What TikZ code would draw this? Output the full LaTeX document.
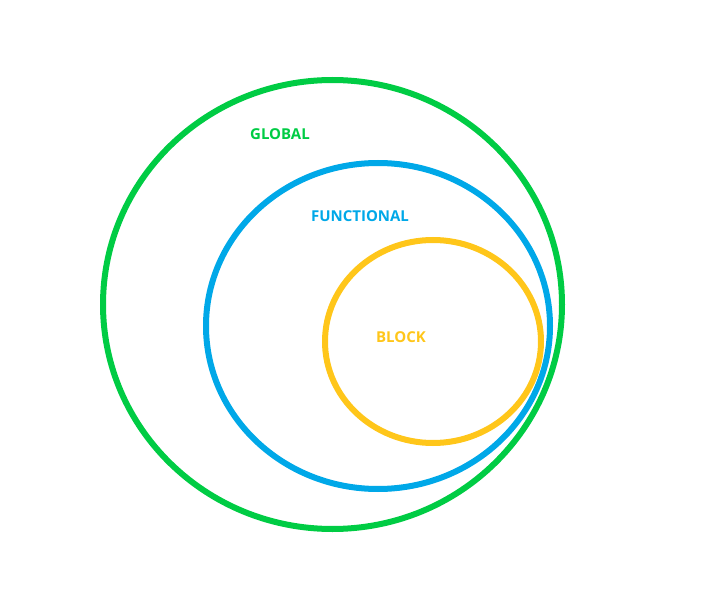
\documentclass[tikz,border=0pt]{standalone}
\usepackage{fontspec}
\setmainfont{Open Sans}
\definecolor{cg}{RGB}{0,204,68}
\definecolor{cb}{RGB}{0,168,232}
\definecolor{cy}{RGB}{255,198,26}
\begin{document}
\begin{tikzpicture}[x=1pt,y=-1pt,ring/.style={line width=6pt},lab/.style={font=\bfseries\fontsize{15}{18}\selectfont}]
\useasboundingbox (0,0) rectangle (710,599);
\draw[ring,cg] (332.5,304.5) ellipse [x radius=229.5, y radius=224.5];
\draw[ring,cb] (378,326) ellipse [x radius=172, y radius=163];
\draw[ring,cy] (433,341.5) ellipse [x radius=108, y radius=101.5];
\node[lab,text=cg] (g) at (280,134) {GLOBAL};
\node[lab,text=cb] (f) at (360,216) {FUNCTIONAL};
\node[lab,text=cy] (b) at (401,337) {BLOCK};
\end{tikzpicture}
\end{document}
